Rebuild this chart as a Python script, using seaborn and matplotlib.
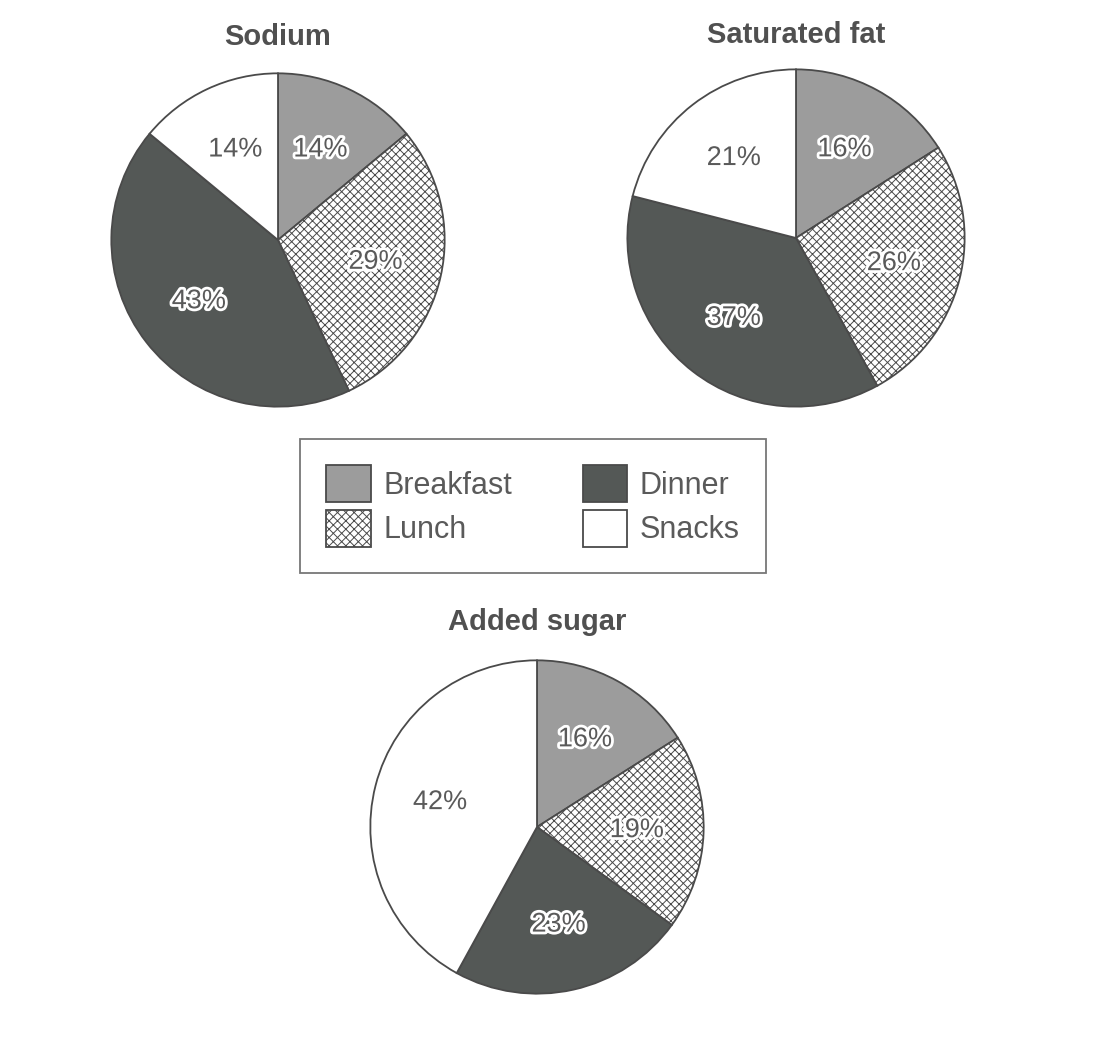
import matplotlib
matplotlib.use("Agg")
import matplotlib.pyplot as plt
import matplotlib.patheffects as pe
from matplotlib.patches import Patch
import seaborn as sns

# ---- data ----
meals = ["Breakfast", "Lunch", "Dinner", "Snacks"]
sodium = [14, 29, 43, 14]
saturated_fat = [16, 26, 37, 21]
added_sugar = [16, 19, 23, 42]
titles = ["Sodium", "Saturated fat", "Added sugar"]

sns.set_theme(style="white")
plt.rcParams["font.family"] = ["Liberation Sans", "DejaVu Sans"]
plt.rcParams["hatch.linewidth"] = 0.7

colors = ["#9c9c9c", "#ffffff", "#545856", "#ffffff"]
hatches = [None, "xxxx", None, None]
edge = "#4a4a4a"
txt_col = "#5a5a5a"

W, H = 1112, 1046
fig = plt.figure(figsize=(W / 100, H / 100), dpi=100)


def pie_at(cx, cy, r, ty, values, title):
    ax = fig.add_axes([(cx - r) / W, (H - cy - r) / H, 2 * r / W, 2 * r / H])
    wedges, texts, autotexts = ax.pie(
        values, colors=colors, startangle=90, counterclock=False,
        autopct=lambda p: f"{p:.0f}%", pctdistance=0.6,
        wedgeprops=dict(edgecolor=edge, linewidth=1.3),
        textprops=dict(fontsize=19.5, color=txt_col),
    )
    for w, h in zip(wedges, hatches):
        if h:
            w.set_hatch(h)
    for t in autotexts:
        t.set_path_effects([pe.withStroke(linewidth=4, foreground="white")])
    ax.set_xlim(-1.02, 1.02)
    ax.set_ylim(-1.02, 1.02)
    ax.set_aspect("equal")
    ax.axis("off")
    fig.text(cx / W, 1 - ty / H, title, ha="center", va="center",
             fontsize=21, fontweight="bold", color="#505050")


pie_at(278, 240, 170, 37, sodium, titles[0])
pie_at(796, 238, 172, 35, saturated_fat, titles[1])
pie_at(537, 827, 170, 622, added_sugar, titles[2])

handles = [Patch(facecolor=c, edgecolor=edge, hatch=h, linewidth=1.3)
           for c, h in zip(colors, hatches)]
leg = fig.legend(handles, meals, ncol=2, loc="center",
                 bbox_to_anchor=(533 / W, 1 - 506 / H),
                 fontsize=22, frameon=True, fancybox=False,
                 handlelength=1.47, handleheight=1.47, handletextpad=0.4,
                 columnspacing=2.3, labelspacing=0.26, borderpad=0.85,
                 edgecolor="#555555", labelcolor=txt_col)
leg.get_frame().set_linewidth(1.3)

fig.savefig("out.png", dpi=100, facecolor="white")
